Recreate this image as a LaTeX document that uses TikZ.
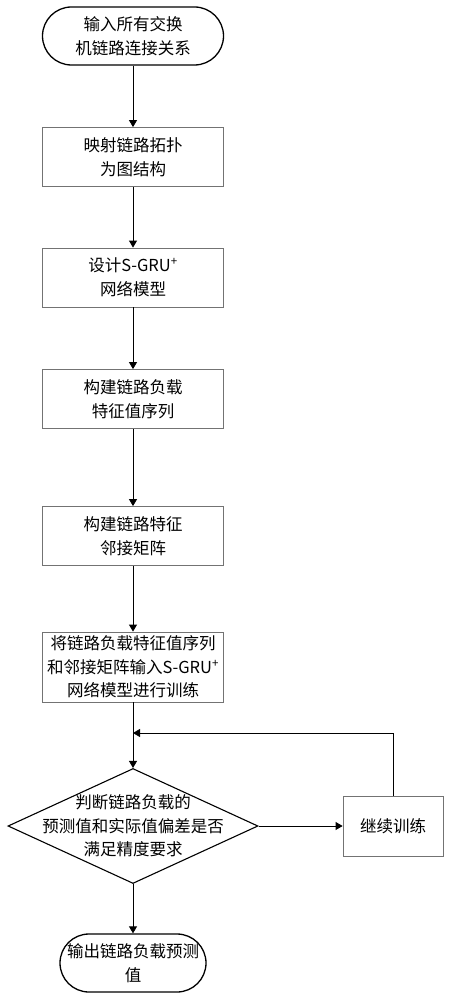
\documentclass[tikz,border=0pt]{standalone}
\usepackage{fontspec}
\setmainfont{Noto Sans CJK SC}
\usetikzlibrary{shapes.geometric,arrows.meta}
\begin{document}
\begin{tikzpicture}[x=1pt,y=-1pt,
  txt/.style={font=\fontsize{16.5}{23.5}\selectfont, align=center},
  term/.style={txt, draw=black, line width=1.3pt, rounded corners=29pt, minimum height=58pt, inner xsep=0pt, inner ysep=0pt},
  proc/.style={txt, draw=black!55, line width=0.8pt, text width=181pt, minimum height=59pt, inner xsep=0pt, inner ysep=0pt},
  decision/.style={draw=black, line width=1.1pt, diamond, minimum width=250pt, minimum height=115pt, inner sep=0pt},
  arr/.style={draw=black, line width=0.8pt, -{Triangle[width=8pt,length=7pt]}},
  ln/.style={draw=black, line width=0.8pt}]
\useasboundingbox (0,0) rectangle (449,1000);
\node[term, text width=181pt] (n1) at (133,36) {输入所有交换\\机链路连接关系};
\node[proc] (n2) at (133,157) {映射链路拓扑\\为图结构};
\node[proc] (n3) at (133,277.5) {设计S-GRU\textsuperscript{+}\\网络模型};
\node[proc] (n4) at (133,399) {构建链路负载\\特征值序列};
\node[proc] (n5) at (133,536) {构建链路特征\\邻接矩阵};
\node[proc, minimum height=70pt] (n6) at (133,667) {将链路负载特征值序列\\和邻接矩阵输入S-GRU\textsuperscript{+}\\网络模型进行训练};
\coordinate (m) at (133,733);
\node[decision, label={[txt]center:判断链路负载的\\预测值和实际值偏差是否\\满足精度要求}] (d) at (133,826) {};
\node[proc, text width=100pt, minimum height=60pt] (c) at (393,826) {继续训练};
\node[term, text width=146pt] (n7) at (133,963) {输出链路负载预测\\值};
\draw[arr] (n1) -- (n2);
\draw[arr] (n2) -- (n3);
\draw[arr] (n3) -- (n4);
\draw[arr] (n4) -- (n5);
\draw[arr] (n5) -- (n6);
\draw[ln] (n6.south) -- (m);
\draw[arr] (m) -- (d.north);
\draw[arr] (d.east) -- (c.west);
\draw[arr] (c.north) |- (m);
\draw[arr] (d.south) -- (n7.north);
\end{tikzpicture}
\end{document}
